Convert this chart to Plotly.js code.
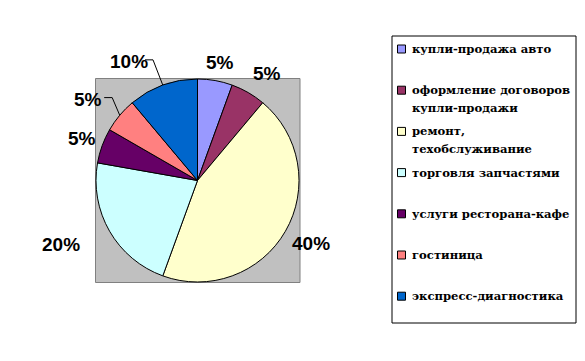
<!DOCTYPE html>
<html><head><meta charset="utf-8">
<script src="https://cdn.plot.ly/plotly-3.0.1.min.js"></script>
<style>html,body{margin:0;padding:0;background:#fff}#chart{width:585px;height:361px}</style>
</head><body><div id="chart"></div>
<script>
const categories = ["купли-продажа авто", "оформление договоров<br>купли-продажи", "ремонт,<br>техобслуживание", "торговля запчастями", "услуги ресторана-кафе", "гостиница", "экспресс-диагностика"];
const values = [5, 5, 40, 20, 5, 5, 10];
const colors = ["#9999FF", "#993366", "#FFFFCC", "#CCFFFF", "#660066", "#FF8080", "#0066CC"];

// layout constants (pixels)
const W = 585, H = 361;
const cx = 197.5, cy = 180.5, R = 101.5;
const labelRadius = [120, 128, 130, 151, 123, 136, 137];
const labelAngleNudge = [0.8, 3, -1, 5, 0, -3.5, -10];
const leaderSlices = [5, 6];

const px = x => x / W, py = y => 1 - y / H;
const total = values.reduce((a, b) => a + b, 0);
let cum = 0;
const mids = values.map(v => { const m = (cum + v / 2) / total * 360; cum += v; return m; });
const polar = (ang, r) => { const a = ang * Math.PI / 180; return [cx + r * Math.sin(a), cy - r * Math.cos(a)]; };

const annotations = [];
const shapes = [{type: 'rect', xref: 'paper', yref: 'paper', x0: px(95.5), x1: px(300), y0: py(282.5), y1: py(78.5),
  fillcolor: '#C0C0C0', line: {color: '#808080', width: 1}, layer: 'below'}];

values.forEach((v, i) => {
  const [lx, ly] = polar(mids[i] + labelAngleNudge[i], labelRadius[i]);
  annotations.push({xref: 'paper', yref: 'paper', x: px(lx), y: py(ly), xanchor: 'center', yanchor: 'middle',
    text: '<b>' + v + '%</b>', showarrow: false, font: {family: 'Liberation Sans, Arial', size: 19, color: '#000'}});
  if (leaderSlices.includes(i)) {
    const [ex, ey] = polar(mids[i], R);
    const sx = lx + 16, bx = sx + 8;
    shapes.push({type: 'path', xref: 'paper', yref: 'paper', layer: 'above',
      path: `M${px(sx)},${py(ly - 2)} L${px(bx)},${py(ly - 2)} L${px(ex)},${py(ey)}`, line: {color: '#000', width: 1}});
  }
});

// legend
const legX0 = 392, legX1 = 576, legY0 = 36, legY1 = 323;
shapes.push({type: 'rect', xref: 'paper', yref: 'paper', x0: px(legX0), x1: px(legX1), y0: py(legY1), y1: py(legY0),
  fillcolor: '#fff', line: {color: '#000', width: 1}});
const itemStart = 49, itemGap = 41.2, lineGap = 18;
categories.forEach((c, i) => {
  const y = itemStart + i * itemGap;
  shapes.push({type: 'rect', xref: 'paper', yref: 'paper', x0: px(397.5), x1: px(405.5), y0: py(y + 4), y1: py(y - 4),
    fillcolor: colors[i], line: {color: '#000', width: 1}});
  c.split('<br>').forEach((line, j) => {
    annotations.push({xref: 'paper', yref: 'paper', x: px(410.5), y: py(y + j * lineGap), xanchor: 'left', yanchor: 'middle', align: 'left',
      text: '<b>' + line + '</b>', showarrow: false, font: {family: 'DejaVu Serif', size: 11.6, color: '#000'}});
  });
});

const data = [{
  type: 'pie', values: values, labels: categories, sort: false, direction: 'clockwise', rotation: 0,
  marker: {colors: colors, line: {color: '#000', width: 1}}, textinfo: 'none', hoverinfo: 'none',
  domain: {x: [px(cx - R), px(cx + R)], y: [py(cy + R), py(cy - R)]}
}];
const layout = {width: W, height: H, margin: {l: 0, r: 0, t: 0, b: 0}, showlegend: false,
  paper_bgcolor: '#fff', shapes: shapes, annotations: annotations};
Plotly.newPlot('chart', data, layout, {staticPlot: true});
</script></body></html>
